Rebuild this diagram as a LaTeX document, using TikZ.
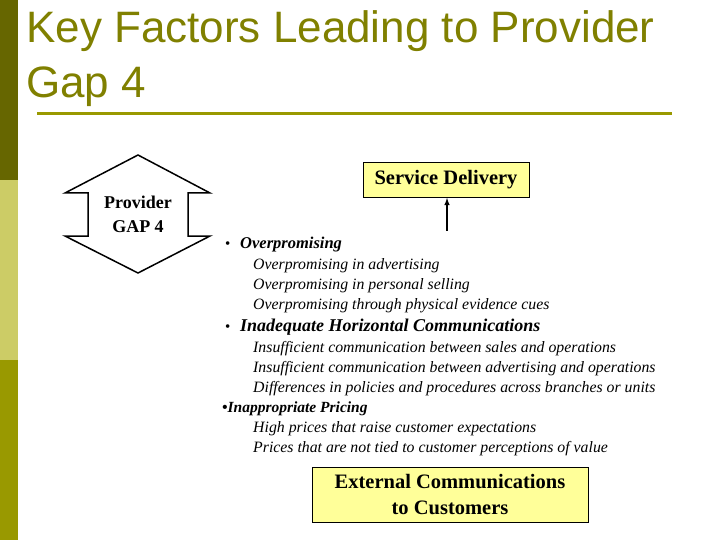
\documentclass[tikz,border=0pt]{standalone}
\usepackage{fontspec}
\setmainfont{Liberation Serif}
\newfontfamily\ttl{Liberation Sans}
\definecolor{olvA}{HTML}{666600}
\definecolor{olvB}{HTML}{CCCC66}
\definecolor{olvC}{HTML}{999900}
\definecolor{ttlc}{HTML}{808000}
\definecolor{boxy}{HTML}{FFFF99}
\begin{document}
\begin{tikzpicture}[x=1pt,y=-1pt,
  it/.style={anchor=west,inner sep=0,font=\fontsize{15.8}{15.8}\selectfont\itshape},
  hd/.style={anchor=west,inner sep=0,font=\fontsize{16.5}{16.5}\selectfont\bfseries\itshape},
  bx/.style={draw,thick,fill=boxy,font=\fontsize{20.5}{26}\selectfont\bfseries,align=center}]
\useasboundingbox (0,0) rectangle (720,540);
\fill[olvA] (0,0) rectangle (18,180);
\fill[olvB] (0,180) rectangle (18,360);
\fill[olvC] (0,360) rectangle (18,540);
\draw[olvC,line width=3] (37,114) -- (672,114);
\node[anchor=north west,align=left,text=ttlc,font=\ttl\fontsize{44}{55}\selectfont,inner sep=0] (title) at (26,10) {Key Factors Leading to Provider\\Gap 4};
\draw[line width=1.5] (138,155) -- (210,193) -- (188,193) -- (188,236) -- (210,236) -- (138,273) -- (65,236) -- (88,236) -- (88,193) -- (65,193) -- cycle;
\node[align=center,font=\fontsize{18}{24}\selectfont\bfseries] (gap) at (138,214) {Provider\\GAP 4};
\node[bx,minimum width=166,minimum height=35,inner sep=2] (sd) at (446,180) {Service Delivery};
\coordinate (ar) at (447,231);
\draw[-latex,line width=1.5] (ar) -- (sd.south -| ar);
\node[anchor=west,inner sep=0,font=\fontsize{15}{15}\selectfont] (b1) at (225,245) {•};
\node[hd] (h1) at (240,245) {Overpromising};
\node[it] at (253,266) {Overpromising in advertising};
\node[it] at (253,286) {Overpromising in personal selling};
\node[it] at (253,306) {Overpromising through physical evidence cues};
\node[anchor=west,inner sep=0,font=\fontsize{15}{15}\selectfont] (b2) at (225,328) {•};
\node[anchor=west,inner sep=0,font=\fontsize{18}{18}\selectfont\bfseries\itshape] (h2) at (240,327) {Inadequate Horizontal Communications};
\node[it] at (253,349) {Insufficient communication between sales and operations};
\node[it] at (253,369) {Insufficient communication between advertising and operations};
\node[it] at (253,389) {Differences in policies and procedures across branches or units};
\node[anchor=west,inner sep=0,font=\fontsize{15.5}{15.5}\selectfont\bfseries\itshape] (h3) at (222,409) {•Inappropriate Pricing};
\node[it] at (253,429) {High prices that raise customer expectations};
\node[it] at (253,449) {Prices that are not tied to customer perceptions of value};
\node[bx,minimum width=276,minimum height=55,inner sep=1] (ec) at (450,495) {External Communications\\to Customers};
\end{tikzpicture}
\end{document}
